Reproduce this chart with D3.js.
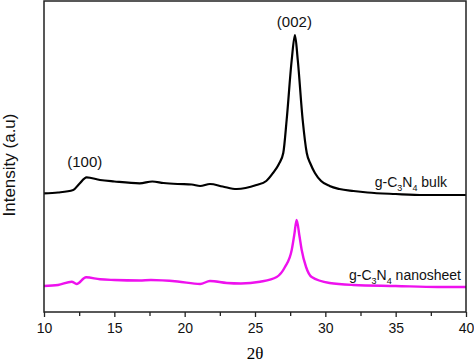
<!DOCTYPE html>
<html lang="en">
<head>
    <meta charset="UTF-8">
    <title>XRD g-C3N4</title>
    <script src="https://d3js.org/d3.v7.min.js"></script>
    <style type="text/css">
        body { margin: 0; background: #fff; }
        text { font-family: "Liberation Sans", Arial, sans-serif; }
    </style>
</head>
<body>
<script type="text/javascript">

// 2theta positions and intensities (a.u.)
var bulkTheta = [10, 11, 12.08, 12.5, 13.03, 13.98, 15, 16.8, 17.7, 18.5, 19.5, 20.5, 21.1, 21.8, 22.7, 23.7, 25.1,
    25.8, 26.28, 26.7, 27.01, 27.25, 27.61, 27.84, 28.04, 28.39, 28.68, 28.95, 29.26, 29.7, 30.3, 31, 32, 33, 35, 37, 40];
var bulkInt = [118.7, 119.5, 122, 128, 134.7, 132, 130.5, 128.7, 130.5, 129, 128, 127.5, 126, 128, 125.5, 123, 127,
    131, 139, 148, 159, 192, 252, 277, 252, 192, 159, 148, 139, 131, 126, 123, 121, 119.5, 118, 117, 117];

var nanoTheta = [10, 11, 11.97, 12.32, 12.99, 13.98, 15, 16.8, 17.6, 19.5, 21.1, 21.8, 23, 24, 25.36,
    26.54, 27.13, 27.61, 27.79, 27.96, 28.15, 28.32, 28.63, 29.03, 30.3, 32, 35, 38, 40];
var nanoInt = [26, 27, 30.3, 28, 34.7, 32.7, 32, 31.5, 32, 30.5, 28, 31, 29, 28.5, 30.3,
    35, 45, 62, 77, 92, 77, 62, 45, 35, 29, 27, 26, 25, 25];

var xTicks = [10, 15, 20, 25, 30, 35, 40];
var xMinor = [12.5, 17.5, 22.5, 27.5, 32.5, 37.5];

var peakNames = ["(100)", "(002)"];
var peakTheta = [12.9, 27.8];
var peakInt = [145, 285];

var w = 474, h = 363;
var mLeft = 44, mRight = 466, mTop = 1, mBottom = 312;

var svg = d3.select("body").append("svg")
    .attr("width", w)
    .attr("height", h);

var xScale = d3.scaleLinear().domain([10, 40]).range([mLeft, mRight]);
var yScale = d3.scaleLinear().domain([0, 311]).range([mBottom, mTop]);

var line = d3.line()
    .x(function(d) { return xScale(d[0]); })
    .y(function(d) { return yScale(d[1]); })
    .curve(d3.curveMonotoneX);

svg.append("path")
    .datum(d3.zip(bulkTheta, bulkInt))
    .attr("d", line)
    .attr("fill", "none")
    .attr("stroke", "#000")
    .attr("stroke-width", 2.2);

svg.append("path")
    .datum(d3.zip(nanoTheta, nanoInt))
    .attr("d", line)
    .attr("fill", "none")
    .attr("stroke", "#ee11ee")
    .attr("stroke-width", 2.4);

// frame
svg.append("rect")
    .attr("x", mLeft).attr("y", mTop)
    .attr("width", mRight - mLeft).attr("height", mBottom - mTop)
    .attr("fill", "none")
    .attr("stroke", "#222")
    .attr("stroke-width", 1.5);

// x axis
var xAxis = d3.axisBottom(xScale).tickValues(xTicks).tickSize(5).tickPadding(6).tickFormat(d3.format("d"));
var gx = svg.append("g").attr("transform", "translate(0," + mBottom + ")").call(xAxis);
gx.select(".domain").remove();
gx.selectAll("line").attr("stroke", "#222").attr("stroke-width", 1.3);
gx.selectAll("text").attr("font-size", "14px").attr("font-family", "Liberation Sans, Arial, sans-serif").attr("fill", "#111");

var gm = svg.append("g").attr("transform", "translate(0," + mBottom + ")")
    .call(d3.axisBottom(xScale).tickValues(xMinor).tickSize(4).tickFormat(""));
gm.select(".domain").remove();
gm.selectAll("line").attr("stroke", "#222").attr("stroke-width", 1.3);

// axis titles
svg.append("text")
    .attr("x", (mLeft + mRight) / 2)
    .attr("y", 359)
    .attr("text-anchor", "middle")
    .style("font-family", "Liberation Serif, serif")
    .attr("font-size", "17px")
    .text("2\u03b8");

svg.append("text")
    .attr("transform", "translate(15,165) rotate(-90)")
    .attr("text-anchor", "middle")
    .attr("font-size", "17px")
    .attr("fill", "#111")
    .text("Intensity (a.u)");

// peak labels
svg.selectAll(".peak")
    .data(peakNames)
    .enter()
    .append("text")
    .attr("class", "peak")
    .attr("x", function(d, i) { return xScale(peakTheta[i]); })
    .attr("y", function(d, i) { return yScale(peakInt[i]); })
    .attr("text-anchor", "middle")
    .attr("font-size", "15px")
    .attr("fill", "#111")
    .text(function(d) { return d; });

// sample labels with subscripts
function sampleLabel(x, y, name) {
    var t = svg.append("text")
        .attr("x", x).attr("y", y)
        .attr("text-anchor", "end")
        .attr("font-size", "14px")
        .attr("fill", "#111");
    t.append("tspan").text("g-C");
    t.append("tspan").attr("dy", 4).attr("font-size", "9px").text("3");
    t.append("tspan").attr("dy", -4).text("N");
    t.append("tspan").attr("dy", 4).attr("font-size", "9px").text("4");
    t.append("tspan").attr("dy", -4).text(" " + name);
}
sampleLabel(447, 187, "bulk");
sampleLabel(461, 280, "nanosheet");

</script>
</body>
</html>
